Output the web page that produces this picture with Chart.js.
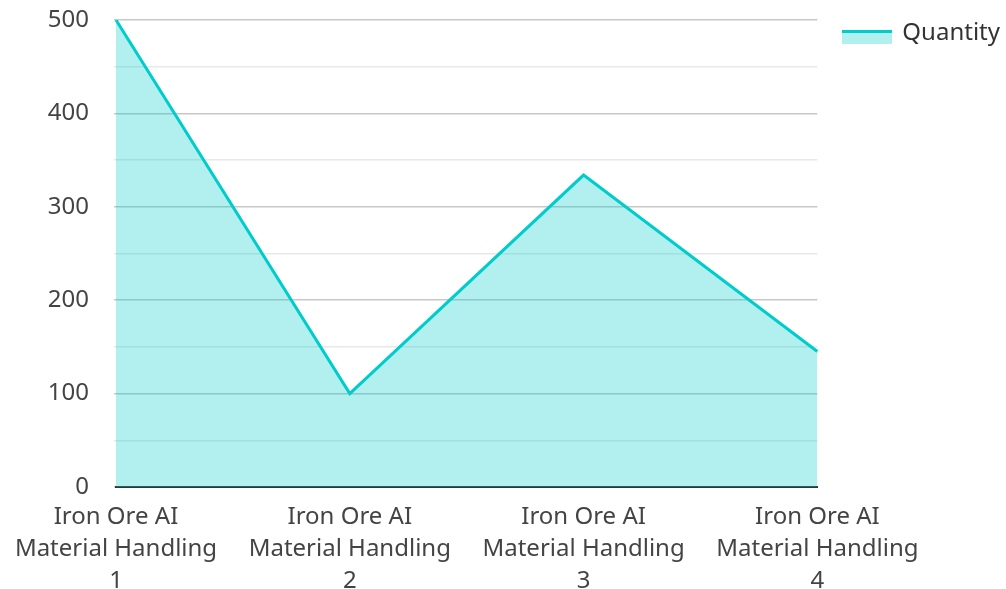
<!DOCTYPE html>
<html>
<head>
<meta charset="utf-8">
<script src="https://cdn.jsdelivr.net/npm/chart.js@4"></script>
<style>
  html, body { margin: 0; padding: 0; background: #fff; }
  #wrap { width: 1006px; height: 589px; }
</style>
</head>
<body>
<div id="wrap"><canvas id="chart"></canvas></div>
<script>
const categories = [
    ['Iron Ore AI', 'Material Handling', '1'],
    ['Iron Ore AI', 'Material Handling', '2'],
    ['Iron Ore AI', 'Material Handling', '3'],
    ['Iron Ore AI', 'Material Handling', '4'],
];
const quantity = [500, 100, 334, 145];
const seriesName = 'Quantity';

const LINE = 'rgb(0, 204, 204)';
const FILL = 'rgba(0, 204, 204, 0.3)';

// legend swatch: thick line on top of a light area block
function legendSwatch() {
    const c = document.createElement('canvas');
    c.width = 50; c.height = 24;
    const g = c.getContext('2d');
    g.fillStyle = FILL;
    g.fillRect(0, 9, 50, 14);
    g.fillStyle = LINE;
    g.fillRect(0, 9, 50, 3);
    return c;
}

Chart.defaults.font.family = "'Noto Sans', sans-serif";
Chart.defaults.font.size = 24;
Chart.defaults.color = '#444';

new Chart(document.getElementById('chart'), {
    type: 'line',
    data: {
        labels: categories,
        datasets: [{
            label: seriesName,
            data: quantity,
            borderColor: LINE,
            backgroundColor: FILL,
            borderWidth: 3,
            fill: 'origin',
            tension: 0,
            pointRadius: 0,
            pointHoverRadius: 0,
            pointStyle: legendSwatch(),
        }]
    },
    options: {
        responsive: true,
        maintainAspectRatio: false,
        animation: false,
        layout: { padding: { top: -5, right: -4, left: 0, bottom: 0 } },
        plugins: {
            legend: {
                position: 'right',
                align: 'start',
                labels: {
                    usePointStyle: true,
                    pointStyleWidth: 47,
                    padding: 26,
                    color: '#333',
                    font: { size: 24 },
                }
            },
            tooltip: { enabled: false },
        },
        scales: {
            x: {
                grid: { display: false },
                border: { display: true, color: '#333', width: 2 },
                ticks: { padding: 6, maxRotation: 0, autoSkip: false, font: { size: 24, lineHeight: 1.3333 } },
                afterFit: s => { s.height = 102; },
            },
            y: {
                min: 0,
                max: 500,
                border: { display: false },
                grid: {
                    color: ctx => (ctx.tick && ctx.tick.value % 100 === 0) ? '#c8c8c8' : '#e8e8e8',
                    lineWidth: 1.5,
                    drawTicks: true,
                    tickLength: 2,
                },
                ticks: {
                    stepSize: 50,
                    padding: 25,
                    callback: v => (v % 100 === 0 ? v : ''),
                },
                afterFit: s => { s.width = 116; s.paddingTop = 20; },
            }
        }
    }
});
</script>
</body>
</html>
